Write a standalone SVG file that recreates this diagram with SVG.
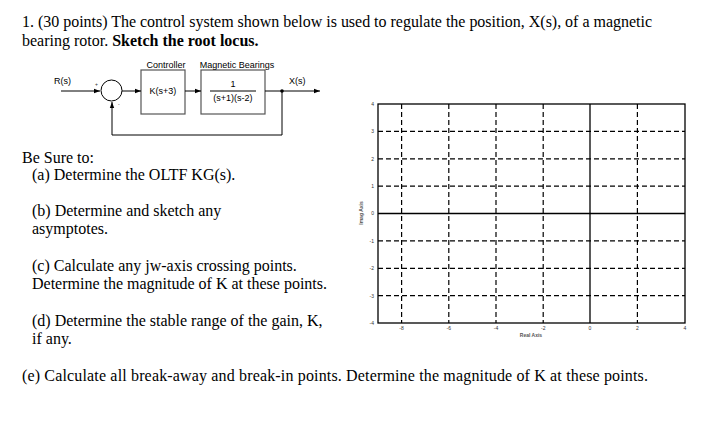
<svg xmlns="http://www.w3.org/2000/svg" width="712" height="435" viewBox="0 0 712 435">
<style>
.t{font-family:"Liberation Serif",serif;font-size:16px;fill:#000}
.s{font-family:"Liberation Sans",sans-serif;font-size:9px;fill:#000}
.k{font-family:"Liberation Sans",sans-serif;font-size:5px;fill:#333}
.ln{stroke:#000;stroke-width:1;fill:none}
.bx{stroke:#555;stroke-width:1.2;fill:#fff}
.g{stroke:#000;stroke-width:1.2;stroke-dasharray:5,3;fill:none}
</style>
<defs><marker id="a" viewBox="0 0 6 6" refX="6" refY="3" markerWidth="6" markerHeight="6" orient="auto"><path d="M0,0.8 L6,3 L0,5.2z" fill="#000"/></marker></defs>
<rect width="712" height="435" fill="#fff"/>
<text class="t" x="22" y="27" textLength="630" lengthAdjust="spacing">1. (30 points) The control system shown below is used to regulate the position, X(s), of a magnetic</text>
<text class="t" x="22" y="46">bearing rotor.  <tspan font-weight="bold">Sketch the root locus.</tspan></text>
<g id="sum"><circle cx="111.5" cy="90.5" r="10.5" class="ln" stroke="#333"/><text class="k" x="95" y="86">+</text><text class="k" x="118" y="106">-</text></g>
<g id="controller"><rect class="bx" x="141" y="70" width="44" height="44"/><text class="s" x="163" y="94" text-anchor="middle">K(s+3)</text><text class="s" x="166" y="68" text-anchor="middle" font-size="8">Controller</text></g>
<g id="plant"><rect class="bx" x="201" y="70" width="64" height="44"/><text class="s" x="233" y="87" text-anchor="middle">1</text><line x1="210" y1="91" x2="256" y2="91" class="ln"/><text class="s" x="233" y="101" text-anchor="middle">(s+1)(s-2)</text><text class="s" x="237" y="68" text-anchor="middle" font-size="8">Magnetic Bearings</text></g>
<g id="labels"><text class="s" x="54" y="84">R(s)</text><text class="s" x="289" y="84">X(s)</text></g>
<g id="connectors">
<line x1="61" y1="91" x2="100" y2="91" class="ln" marker-end="url(#a)"/>
<line x1="122" y1="91" x2="141" y2="91" class="ln" marker-end="url(#a)"/>
<line x1="185" y1="91" x2="201" y2="91" class="ln" marker-end="url(#a)"/>
<line x1="265" y1="91" x2="320" y2="91" class="ln" marker-end="url(#a)"/>
<circle cx="282" cy="91" r="1.8" fill="#000"/>
<polyline points="282,91 282,135 112,135 112,102" class="ln" marker-end="url(#a)"/>
</g>
<text class="t" x="22" y="163">Be Sure to:</text>
<text class="t" x="32" y="180">(a) Determine the OLTF KG(s).</text>
<text class="t" x="32" y="216">(b) Determine and sketch any</text>
<text class="t" x="32" y="234">asymptotes.</text>
<text class="t" x="32" y="271">(c) Calculate any jw-axis crossing points.</text>
<text class="t" x="32" y="289">Determine the magnitude of K at these points.</text>
<text class="t" x="32" y="326">(d) Determine the stable range of the gain, K,</text>
<text class="t" x="32" y="344">if any.</text>
<text class="t" x="22" y="381" textLength="626" lengthAdjust="spacing">(e) Calculate all break-away and break-in points.  Determine the magnitude of K at these points.</text>
<g id="plot">
<g class="g">
<line x1="401.6" y1="104" x2="401.6" y2="323"/><line x1="448.8" y1="104" x2="448.8" y2="323"/><line x1="496" y1="104" x2="496" y2="323"/><line x1="543.2" y1="104" x2="543.2" y2="323"/><line x1="637.4" y1="104" x2="637.4" y2="323"/>
<line x1="378" y1="131.4" x2="685" y2="131.4"/><line x1="378" y1="158.8" x2="685" y2="158.8"/><line x1="378" y1="186.1" x2="685" y2="186.1"/><line x1="378" y1="240.9" x2="685" y2="240.9"/><line x1="378" y1="268.3" x2="685" y2="268.3"/><line x1="378" y1="295.6" x2="685" y2="295.6"/>
</g>
<line x1="590" y1="104" x2="590" y2="323" stroke="#000" stroke-width="1.3"/>
<line x1="378" y1="213.5" x2="685" y2="213.5" stroke="#000" stroke-width="1.3"/>
<rect x="378" y="104" width="307" height="219" fill="none" stroke="#000" stroke-width="1.3"/>
<g class="k" text-anchor="end">
<text x="374" y="106">4</text><text x="374" y="133">3</text><text x="374" y="161">2</text><text x="374" y="188">1</text><text x="374" y="215">0</text><text x="374" y="243">-1</text><text x="374" y="270">-2</text><text x="374" y="298">-3</text><text x="374" y="325">-4</text>
</g>
<g class="k" text-anchor="middle">
<text x="401.6" y="330">-8</text><text x="448.8" y="330">-6</text><text x="496" y="330">-4</text><text x="543.2" y="330">-2</text><text x="590" y="330">0</text><text x="637.4" y="330">2</text><text x="685" y="330">4</text>
<text x="531" y="337" font-weight="bold" fill="#555">Real Axis</text>
<text transform="translate(363,213) rotate(-90)" font-weight="bold" fill="#555">Imag Axis</text>
</g>
</g>
</svg>
